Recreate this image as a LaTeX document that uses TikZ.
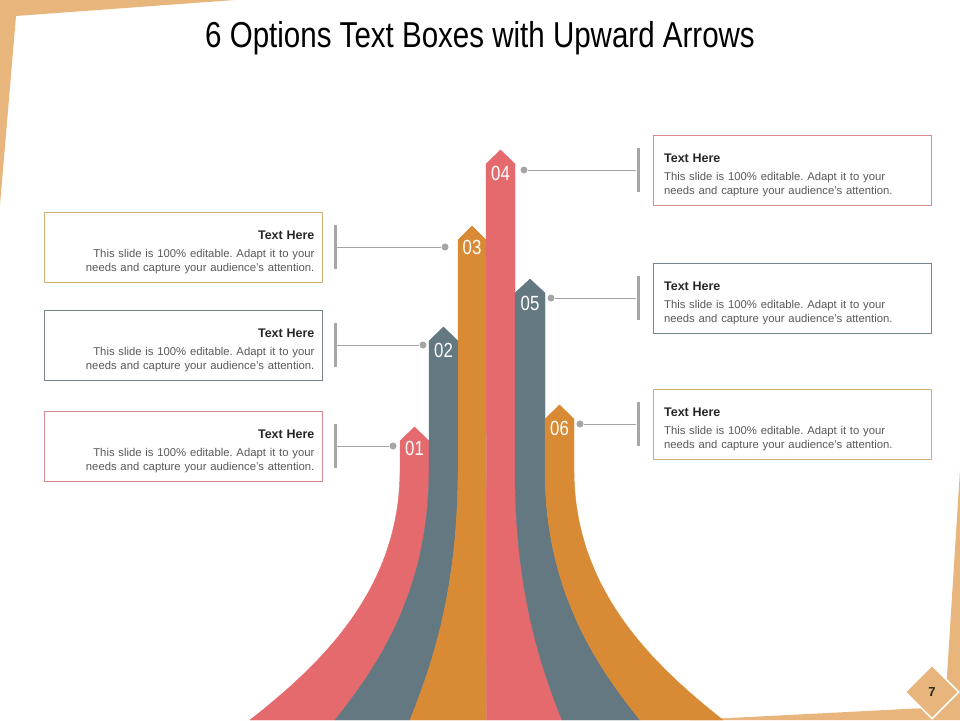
\documentclass[tikz,border=0pt]{standalone}
\usepackage{fontspec}
\setmainfont{Liberation Sans}
\newfontfamily\narrowfont[FakeStretch=0.82]{Liberation Sans}
\usetikzlibrary{positioning,shapes.geometric}

\definecolor{arrowred}{HTML}{E56A6E}
\definecolor{arrowgray}{HTML}{637880}
\definecolor{arroworange}{HTML}{D98A35}
\definecolor{frametan}{HTML}{E8B67D}
\definecolor{linegray}{HTML}{A6A6A6}
\definecolor{boxred}{HTML}{D98C8F}
\definecolor{boxgray}{HTML}{73868C}
\definecolor{boxtan}{HTML}{CFAE74}
\definecolor{headtext}{HTML}{262626}
\definecolor{bodytext}{HTML}{595959}

\frenchspacing
\newcommand{\boxtext}{{\fontsize{12.5}{14}\selectfont\bfseries\color{headtext}\rule{0pt}{20pt}Text Here}\\[4pt]This slide is 100\% editable. Adapt it to your\\needs and capture your audience’s attention.}

\begin{document}
\begin{tikzpicture}[x=1pt,y=-1pt,
    strip/.style={line width=0.4pt,line join=round},
    num/.style={text=white,font=\narrowfont\fontsize{20.5}{20}\selectfont,inner sep=0pt},
    lbox/.style={rectangle,line width=0.8pt,minimum width=278pt,minimum height=70pt,
      inner xsep=8pt,text width=262pt,align=right,text=bodytext,font=\fontsize{11.3}{14}\selectfont},
    rbox/.style={lbox,inner xsep=11pt,text width=256pt,align=left},
    dot/.style={circle,fill=linegray,inner sep=0pt,minimum size=7pt},
    bar/.style={rectangle,fill=linegray,inner sep=0pt,minimum width=3pt,minimum height=44pt},
    conn/.style={linegray,line width=1pt}]
    \useasboundingbox (0,0) rectangle (960,720);
    \fill[white] (0,0) rectangle (960,720);

    % frame corners
    \fill[frametan] (0,0) -- (235,0) -- (16,16) -- (0,205) -- cycle;
    \fill[frametan] (960,470) -- (945,707) -- (690,720) -- (960,720) -- cycle;

    \node[font=\narrowfont\fontsize{36}{36}\selectfont] (title) at (480,38) {6 Options Text Boxes with Upward Arrows};

    % arrows
    \filldraw[arrowred,strip] (250,720) .. controls (320,665) and (400,590) .. (400,470)
      -- (400,441) -- (414.5,427) -- (429,441) -- (429,470)
      .. controls (429,590) and (379,665) .. (335,720) -- cycle;
    \filldraw[arrowgray,strip] (335,720) .. controls (379,665) and (429,590) .. (429,470)
      -- (429,341) -- (443.5,327) -- (458,341) -- (458,470)
      .. controls (458,590) and (432,665) .. (410,720) -- cycle;
    \filldraw[arroworange,strip] (410,720) .. controls (432,665) and (458,590) .. (458,470)
      -- (458,240) -- (472,226) -- (486,240) -- (486.5,720) -- cycle;
    \filldraw[arrowred,strip] (486.5,720) -- (486,164) -- (500.5,150) -- (515,164) -- (515,470)
      .. controls (515,590) and (540,665) .. (562,720) -- cycle;
    \filldraw[arrowgray,strip] (562,720) .. controls (540,665) and (515,590) .. (515,470)
      -- (515,293) -- (530,279) -- (545,293) -- (545,470)
      .. controls (545,590) and (596,665) .. (640,720) -- cycle;
    \filldraw[arroworange,strip] (640,720) .. controls (596,665) and (545,590) .. (545,470)
      -- (545,419) -- (559.5,405) -- (574,419) -- (574,470)
      .. controls (574,590) and (653.5,665) .. (723,720) -- cycle;

    \node[num] (n1) at (414.5,448) {01};
    \node[num] (n2) at (443.5,350) {02};
    \node[num] (n3) at (472,247) {03};
    \node[num] (n4) at (500.5,173) {04};
    \node[num] (n5) at (530,303) {05};
    \node[num] (n6) at (559.5,428) {06};

    % connectors
    \node[dot] (d1) at (393,446) {};
    \node[dot] (d2) at (423,345) {};
    \node[dot] (d3) at (445,247) {};
    \node[dot] (d4) at (524,170) {};
    \node[dot] (d5) at (551,298) {};
    \node[dot] (d6) at (580,424) {};
    \node[bar] (k1) at (335,446) {};
    \node[bar] (k2) at (335,345) {};
    \node[bar] (k3) at (335,247) {};
    \node[bar] (k4) at (638,170) {};
    \node[bar] (k5) at (638,298) {};
    \node[bar] (k6) at (638,424) {};
    \draw[conn] (k1) -- (d1);
    \draw[conn] (k2) -- (d2);
    \draw[conn] (k3) -- (d3);
    \draw[conn] (k4) -- (d4);
    \draw[conn] (k5) -- (d5);
    \draw[conn] (k6) -- (d6);

    % text boxes
    \node[lbox,draw=boxred,left=10.5pt of k1] (t1) {\boxtext};
    \node[lbox,draw=boxgray,left=10.5pt of k2] (t2) {\boxtext};
    \node[lbox,draw=boxtan,left=10.5pt of k3] (t3) {\boxtext};
    \node[rbox,draw=boxred,right=13pt of k4] (t4) {\boxtext};
    \node[rbox,draw=boxgray,right=13pt of k5] (t5) {\boxtext};
    \node[rbox,draw=boxtan,right=13pt of k6] (t6) {\boxtext};

    \node[diamond,fill=frametan,draw=white,line width=1.5pt,minimum width=54pt,minimum height=54pt,
      inner sep=0pt,text=headtext,font=\bfseries\fontsize{13}{13}\selectfont] (page) at (932,692) {7};
\end{tikzpicture}
\end{document}
